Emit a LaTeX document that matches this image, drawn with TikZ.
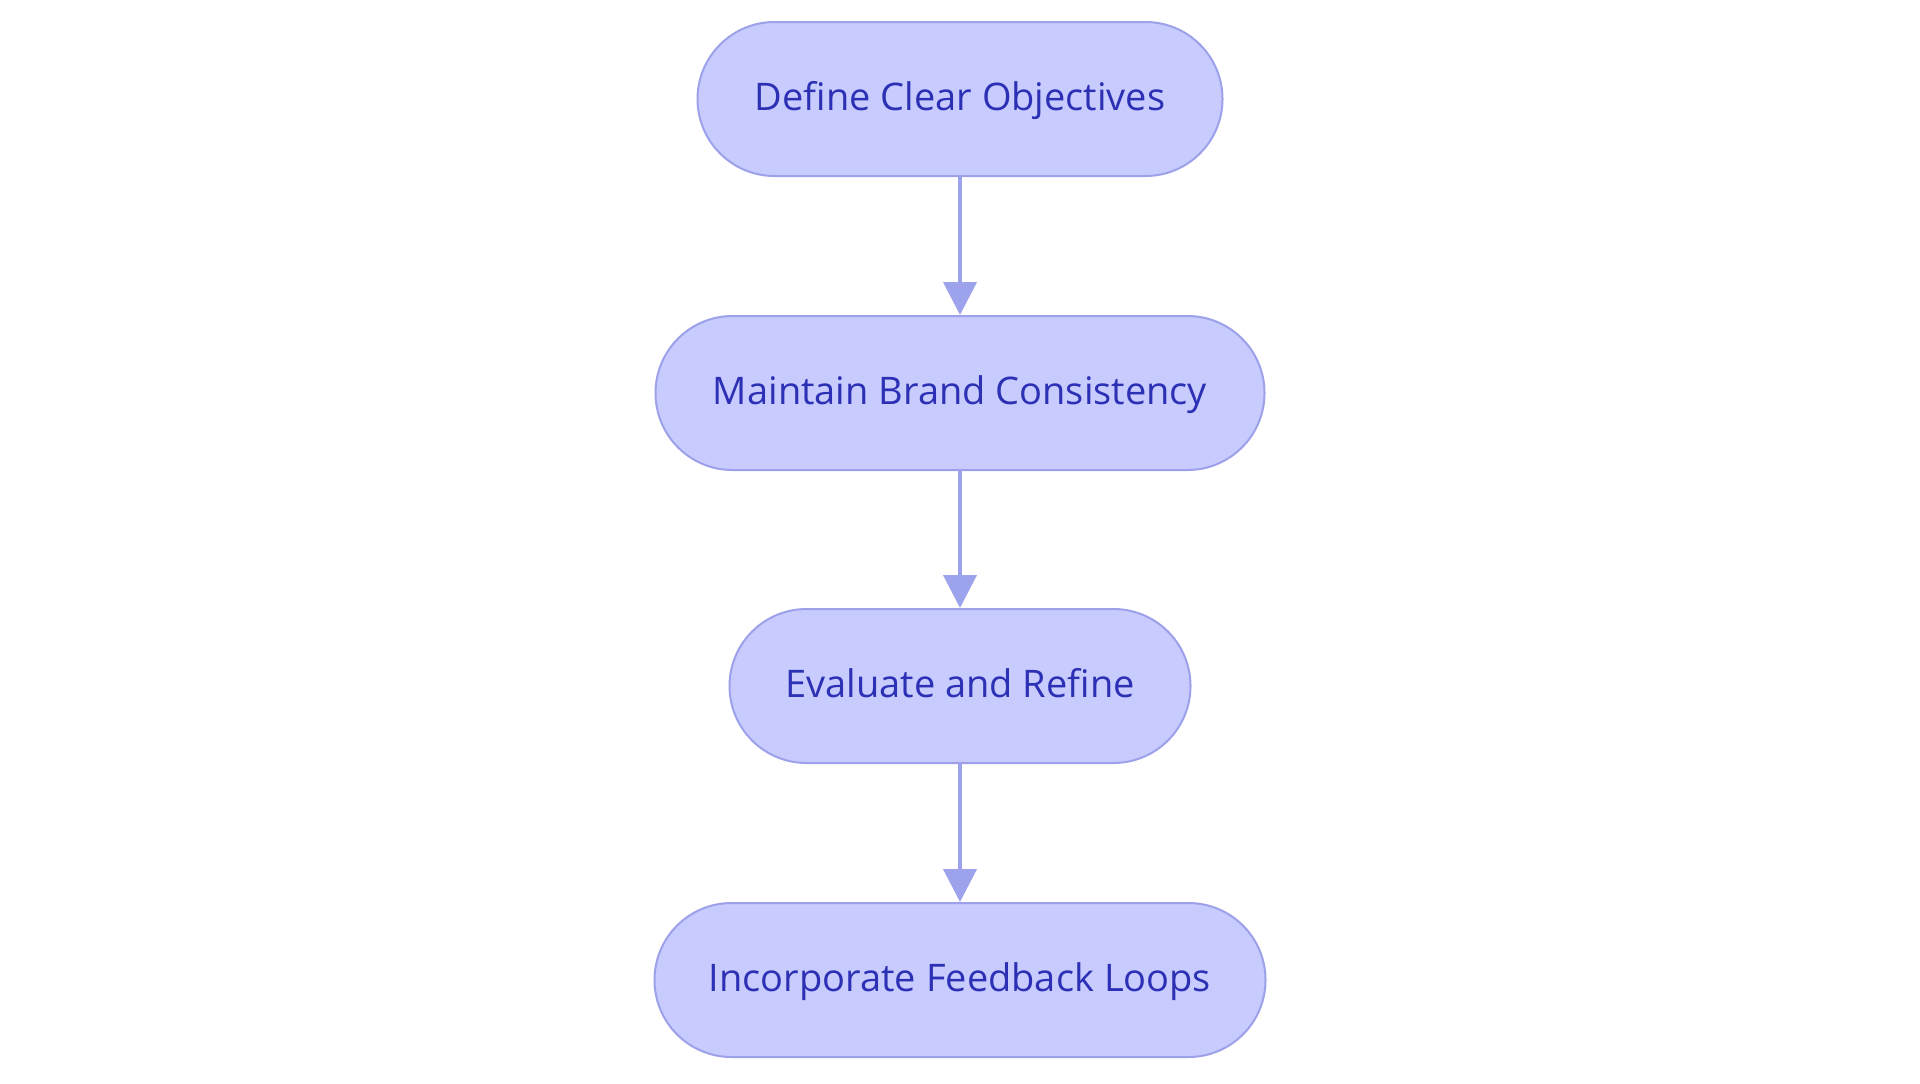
\documentclass[tikz,border=0pt]{standalone}
\usepackage{fontspec}
\setmainfont{Open Sans}
\usetikzlibrary{arrows.meta}
\definecolor{stapvul}{HTML}{C8CBFE}
\definecolor{staprand}{HTML}{9CA1EA}
\definecolor{staptekst}{HTML}{2C30B4}
\definecolor{pijlkleur}{HTML}{9DA2EC}
\tikzset{
  stapbox/.style={draw=staprand, line width=1pt, fill=stapvul, rounded corners=38.5pt,
    minimum height=77pt, text height=13pt, text depth=2pt, text=staptekst,
    font=\fontsize{19}{22}\selectfont},
  stappijl/.style={draw=pijlkleur, line width=2pt, -{Triangle[width=16.5pt,length=16.5pt]}}
}
\begin{document}
\begin{tikzpicture}[x=0.5pt, y=-0.5pt]
% Kader (1920 x 1083 px)
\useasboundingbox (0,0) rectangle (1920,1083);

% Stappen
\node[stapbox, minimum width=262.5pt] (doelen) at (960,99) {Define Clear Objectives};
\node[stapbox, minimum width=304.5pt] (merk) at (960,393) {Maintain Brand Consistency};
\node[stapbox, minimum width=230.5pt] (evalueer) at (960,686) {Evaluate and Refine};
\node[stapbox, minimum width=305.5pt] (feedback) at (960,980) {Incorporate Feedback Loops};

% Pijlen
\draw[stappijl] (doelen) -- (merk);
\draw[stappijl] (merk) -- (evalueer);
\draw[stappijl] (evalueer) -- (feedback);
\end{tikzpicture}
\end{document}
